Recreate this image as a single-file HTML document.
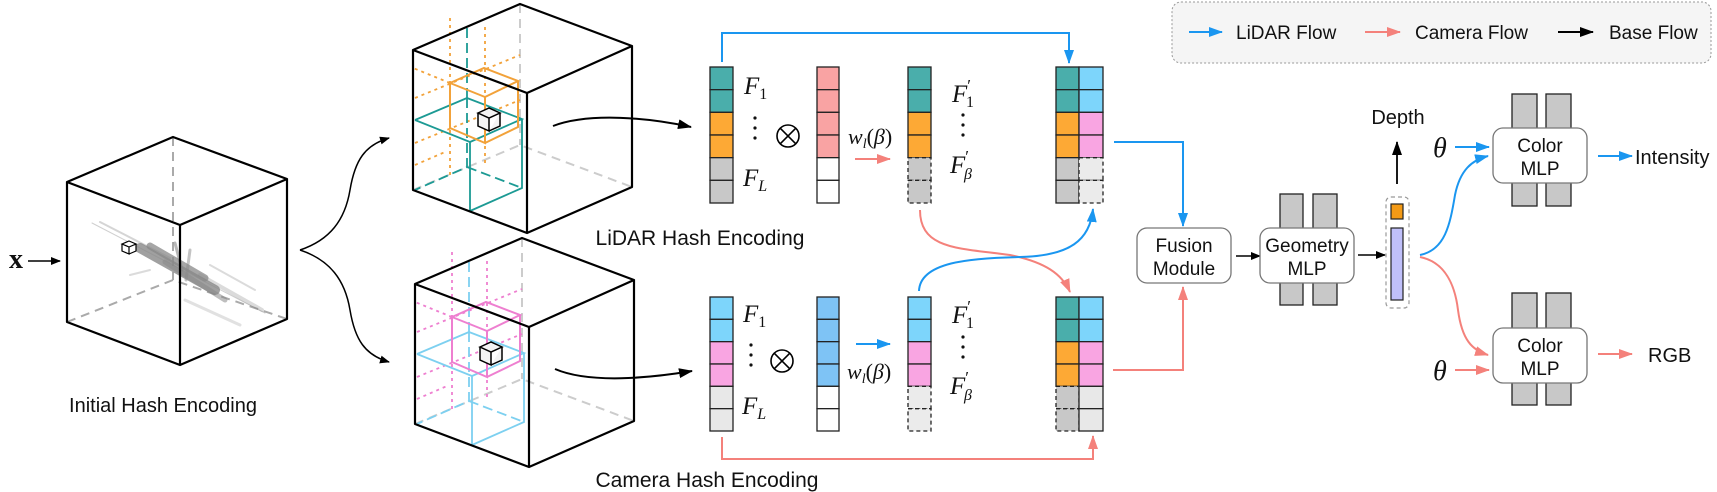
<!DOCTYPE html>
<html><head><meta charset="utf-8">
<style>
html,body{margin:0;padding:0;background:#fff;}
svg{display:block;}
.t{font-family:"Liberation Sans",sans-serif;fill:#111;}
.m{font-family:"Liberation Serif",serif;font-style:italic;fill:#111;}
.n{font-style:normal;}
</style></head>
<body>
<svg width="1717" height="492" viewBox="0 0 1717 492" xmlns="http://www.w3.org/2000/svg">
<defs>
<marker id="ab" markerWidth="10" markerHeight="8" refX="9" refY="4" orient="auto" markerUnits="userSpaceOnUse"><path d="M0,0 L10,4 L0,8 z" fill="#1a96f0"/></marker>
<marker id="ap" markerWidth="10" markerHeight="8" refX="9" refY="4" orient="auto" markerUnits="userSpaceOnUse"><path d="M0,0 L10,4 L0,8 z" fill="#f4817b"/></marker>
<marker id="ak" markerWidth="10" markerHeight="8" refX="9" refY="4" orient="auto" markerUnits="userSpaceOnUse"><path d="M0,0 L10,4 L0,8 z" fill="#000"/></marker>
<marker id="abL" markerWidth="14" markerHeight="10" refX="13" refY="5" orient="auto" markerUnits="userSpaceOnUse"><path d="M0,0 L14,5 L0,10 z" fill="#1a96f0"/></marker>
<marker id="apL" markerWidth="14" markerHeight="10" refX="13" refY="5" orient="auto" markerUnits="userSpaceOnUse"><path d="M0,0 L14,5 L0,10 z" fill="#f4817b"/></marker>
<marker id="akL" markerWidth="14" markerHeight="10" refX="13" refY="5" orient="auto" markerUnits="userSpaceOnUse"><path d="M0,0 L14,5 L0,10 z" fill="#000"/></marker>
</defs>

<!-- Legend -->
<rect x="1172" y="2" width="539" height="61" rx="9" fill="#f5f5f5" stroke="#999" stroke-width="1" stroke-dasharray="2,2"/>
<line x1="1189" y1="32" x2="1222" y2="32" stroke="#1a96f0" stroke-width="2" marker-end="url(#abL)"/>
<text class="t" x="1236" y="39" font-size="19">LiDAR Flow</text>
<line x1="1365" y1="32" x2="1400" y2="32" stroke="#f4817b" stroke-width="2" marker-end="url(#apL)"/>
<text class="t" x="1415" y="39" font-size="19">Camera Flow</text>
<line x1="1558" y1="32" x2="1593" y2="32" stroke="#000" stroke-width="2" marker-end="url(#akL)"/>
<text class="t" x="1609" y="39" font-size="19">Base Flow</text>

<!-- Left cube -->
<g fill="none">
<path d="M173,137 V280 M67,322 L173,280 L287,319" stroke="#aaa" stroke-width="2" stroke-dasharray="9,6"/>
<g stroke="#888" stroke-linecap="round">
<path d="M92,223 L265,313" stroke-width="1" opacity="0.4"/>
<path d="M100,222 L170,258" stroke-width="2" opacity="0.35"/>
<path d="M140,248 L215,290" stroke-width="10" opacity="0.8"/>
<path d="M150,246 L205,278" stroke-width="7" opacity="0.75"/>
<path d="M165,262 L225,300" stroke-width="5" opacity="0.55"/>
<path d="M200,275 L262,310" stroke-width="4" opacity="0.3"/>
<path d="M185,300 L240,325" stroke-width="3" opacity="0.25"/>
<path d="M175,243 L182,270" stroke-width="3" opacity="0.6"/>
<path d="M190,250 L186,280" stroke-width="3" opacity="0.5"/>
<path d="M130,275 L150,270" stroke-width="2" opacity="0.3"/>
<path d="M210,265 L255,290" stroke-width="2" opacity="0.3"/>
</g>
<path d="M67,182 L173,137 L287,179 L180,225 Z M67,182 V322 L180,365 L287,319 V179 M180,225 V365" stroke="#000" stroke-width="2.2" stroke-linejoin="round"/>
<path d="M122,244 L129,241 L136,244 L129,247 Z M122,244 V251 L129,254 V247 M129,254 L136,251 V244" stroke="#000" stroke-width="1.2" fill="#fff"/>
</g>
<text x="9" y="268" font-size="28" font-weight="bold" style="font-family:'Liberation Serif',serif;fill:#111">x</text>
<line x1="28" y1="261" x2="60" y2="261" stroke="#000" stroke-width="1.5" marker-end="url(#ak)"/>
<text class="t" x="163" y="412" font-size="20" text-anchor="middle">Initial Hash Encoding</text>

<!-- brace arrows -->
<path d="M300,250 C330,240 345,220 350,190 C355,160 365,145 389,138" fill="none" stroke="#000" stroke-width="1.5" marker-end="url(#ak)"/>
<path d="M300,250 C330,260 345,280 350,310 C355,340 365,355 389,362" fill="none" stroke="#000" stroke-width="1.5" marker-end="url(#ak)"/>

<!-- Top cube (LiDAR) -->
<g fill="none">
<path d="M520,4 V145 M413,190 L520,145 L632,187" stroke="#ccc" stroke-width="2" stroke-dasharray="9,6"/>
<g stroke="#f2a23a" stroke-width="1.8" stroke-dasharray="3,4">
<path d="M450,18 V175 M485,27 V167 M415,98 L520,55 M415,143 L520,100 M415,165 L445,152 M450,83 L413,68"/>
</g>
<g stroke="#1c9a94" stroke-width="1.8">
<path d="M467,28 V98" stroke-dasharray="10,5"/>
<path d="M467,98 V167 L415,190 M467,167 L522,188" stroke-dasharray="10,5"/>
<path d="M415,120 L470,142 V211 M415,120 L467,98 L522,119 L470,142 M522,119 V188 L470,211"/>
</g>
<g stroke="#f2a23a" stroke-width="2">
<path d="M450,83 L485,97 V143 L450,128 Z M450,83 L484,68 L518,81 L485,97 M518,81 V127 L485,143"/>
</g>
<path d="M413,50 L520,4 L632,46 L527,93 Z M413,50 V190 L527,233 L632,187 V46 M527,93 V233" stroke="#000" stroke-width="2.2" stroke-linejoin="round"/>
<path d="M478,113 L489,108 L500,113 L489,118 Z M478,113 V126 L489,131 V118 M489,131 L500,126 V113" stroke="#000" stroke-width="1.5" fill="#f4f4f4"/>
</g>
<text class="t" x="700" y="245" font-size="21" text-anchor="middle">LiDAR Hash Encoding</text>

<!-- Bottom cube (Camera) -->
<g fill="none">
<path d="M522,238 V379 M415,424 L522,379 L634,421" stroke="#ccc" stroke-width="2" stroke-dasharray="9,6"/>
<g stroke="#ee7fd0" stroke-width="1.8" stroke-dasharray="3,4">
<path d="M452,252 V409 M487,261 V401 M417,332 L522,289 M417,377 L522,334 M417,399 L447,386 M452,317 L415,302"/>
</g>
<g stroke="#7dd0f0" stroke-width="1.8">
<path d="M469,262 V332" stroke-dasharray="10,5"/>
<path d="M469,332 V401 L417,424 M469,401 L524,422" stroke-dasharray="10,5"/>
<path d="M417,354 L472,376 V445 M417,354 L469,332 L524,353 L472,376 M524,353 V422 L472,445"/>
</g>
<g stroke="#ee7fd0" stroke-width="2">
<path d="M452,317 L487,331 V377 L452,362 Z M452,317 L486,302 L520,315 L487,331 M520,315 V361 L487,377"/>
</g>
<path d="M415,284 L522,238 L634,280 L529,327 Z M415,284 V424 L529,467 L634,421 V280 M529,327 V467" stroke="#000" stroke-width="2.2" stroke-linejoin="round"/>
<path d="M480,347 L491,342 L502,347 L491,352 Z M480,347 V360 L491,365 V352 M491,365 L502,360 V347" stroke="#000" stroke-width="1.5" fill="#f4f4f4"/>
</g>
<text class="t" x="707" y="487" font-size="21" text-anchor="middle">Camera Hash Encoding</text>

<!-- cube -> columns arrows -->
<path d="M553,126 C590,112 650,118 691,127" fill="none" stroke="#000" stroke-width="2" marker-end="url(#akL)"/>
<path d="M555,369 C590,384 650,378 692,371" fill="none" stroke="#000" stroke-width="2" marker-end="url(#akL)"/>

<!-- Top columns -->
<g stroke="#222" stroke-width="1.3">
<rect x="710" y="67" width="23" height="22.67" fill="#4aaeab"/><rect x="710" y="89.67" width="23" height="22.67" fill="#4aaeab"/>
<rect x="710" y="112.33" width="23" height="22.67" fill="#fda935"/><rect x="710" y="135" width="23" height="22.67" fill="#fda935"/>
<rect x="710" y="157.67" width="23" height="22.67" fill="#c8c8c8"/><rect x="710" y="180.33" width="23" height="22.67" fill="#c8c8c8"/>

<rect x="817" y="67" width="22" height="22.67" fill="#f9a3a3"/><rect x="817" y="89.67" width="22" height="22.67" fill="#f9a3a3"/>
<rect x="817" y="112.33" width="22" height="22.67" fill="#f9a3a3"/><rect x="817" y="135" width="22" height="22.67" fill="#f9a3a3"/>
<rect x="817" y="157.67" width="22" height="22.67" fill="#fff"/><rect x="817" y="180.33" width="22" height="22.67" fill="#fff"/>

<rect x="908" y="67" width="23" height="22.67" fill="#4aaeab"/><rect x="908" y="89.67" width="23" height="22.67" fill="#4aaeab"/>
<rect x="908" y="112.33" width="23" height="22.67" fill="#fda935"/><rect x="908" y="135" width="23" height="22.67" fill="#fda935"/>
<rect x="908" y="157.67" width="23" height="22.67" fill="#c8c8c8" stroke-dasharray="4,3"/><rect x="908" y="180.33" width="23" height="22.67" fill="#c8c8c8" stroke-dasharray="4,3"/>

<rect x="1056" y="67" width="23" height="22.67" fill="#4aaeab"/><rect x="1056" y="89.67" width="23" height="22.67" fill="#4aaeab"/>
<rect x="1056" y="112.33" width="23" height="22.67" fill="#fda935"/><rect x="1056" y="135" width="23" height="22.67" fill="#fda935"/>
<rect x="1056" y="157.67" width="23" height="22.67" fill="#c8c8c8"/><rect x="1056" y="180.33" width="23" height="22.67" fill="#c8c8c8"/>
<rect x="1079" y="67" width="24" height="22.67" fill="#7dd5fb"/><rect x="1079" y="89.67" width="24" height="22.67" fill="#7dd5fb"/>
<rect x="1079" y="112.33" width="24" height="22.67" fill="#f9a5e2"/><rect x="1079" y="135" width="24" height="22.67" fill="#f9a5e2"/>
<rect x="1079" y="157.67" width="24" height="22.67" fill="#ebebeb" stroke-dasharray="4,3"/><rect x="1079" y="180.33" width="24" height="22.67" fill="#ebebeb" stroke-dasharray="4,3"/>
</g>

<!-- Bottom columns -->
<g stroke="#222" stroke-width="1.3">
<rect x="710" y="297" width="23" height="22.33" fill="#7dd5fb"/><rect x="710" y="319.33" width="23" height="22.33" fill="#7dd5fb"/>
<rect x="710" y="341.67" width="23" height="22.33" fill="#f9a5e2"/><rect x="710" y="364" width="23" height="22.33" fill="#f9a5e2"/>
<rect x="710" y="386.33" width="23" height="22.33" fill="#e8e8e8"/><rect x="710" y="408.67" width="23" height="22.33" fill="#e8e8e8"/>

<rect x="817" y="297" width="22" height="22.33" fill="#7ec3f5"/><rect x="817" y="319.33" width="22" height="22.33" fill="#7ec3f5"/>
<rect x="817" y="341.67" width="22" height="22.33" fill="#7ec3f5"/><rect x="817" y="364" width="22" height="22.33" fill="#7ec3f5"/>
<rect x="817" y="386.33" width="22" height="22.33" fill="#fff"/><rect x="817" y="408.67" width="22" height="22.33" fill="#fff"/>

<rect x="908" y="297" width="23" height="22.33" fill="#7dd5fb"/><rect x="908" y="319.33" width="23" height="22.33" fill="#7dd5fb"/>
<rect x="908" y="341.67" width="23" height="22.33" fill="#f9a5e2"/><rect x="908" y="364" width="23" height="22.33" fill="#f9a5e2"/>
<rect x="908" y="386.33" width="23" height="22.33" fill="#ebebeb" stroke-dasharray="4,3"/><rect x="908" y="408.67" width="23" height="22.33" fill="#ebebeb" stroke-dasharray="4,3"/>

<rect x="1056" y="297" width="23" height="22.33" fill="#4aaeab"/><rect x="1056" y="319.33" width="23" height="22.33" fill="#4aaeab"/>
<rect x="1056" y="341.67" width="23" height="22.33" fill="#fda935"/><rect x="1056" y="364" width="23" height="22.33" fill="#fda935"/>
<rect x="1056" y="386.33" width="23" height="22.33" fill="#c8c8c8" stroke-dasharray="4,3"/><rect x="1056" y="408.67" width="23" height="22.33" fill="#c8c8c8" stroke-dasharray="4,3"/>
<rect x="1079" y="297" width="24" height="22.33" fill="#7dd5fb"/><rect x="1079" y="319.33" width="24" height="22.33" fill="#7dd5fb"/>
<rect x="1079" y="341.67" width="24" height="22.33" fill="#f9a5e2"/><rect x="1079" y="364" width="24" height="22.33" fill="#f9a5e2"/>
<rect x="1079" y="386.33" width="24" height="22.33" fill="#e8e8e8"/><rect x="1079" y="408.67" width="24" height="22.33" fill="#e8e8e8"/>
</g>

<!-- vertical dots -->
<g fill="#111">
<circle cx="755" cy="118" r="1.6"/><circle cx="755" cy="128" r="1.6"/><circle cx="755" cy="138" r="1.6"/>
<circle cx="963" cy="115" r="1.6"/><circle cx="963" cy="125" r="1.6"/><circle cx="963" cy="135" r="1.6"/>
<circle cx="751" cy="345" r="1.6"/><circle cx="751" cy="355" r="1.6"/><circle cx="751" cy="365" r="1.6"/>
<circle cx="963" cy="337" r="1.6"/><circle cx="963" cy="347" r="1.6"/><circle cx="963" cy="357" r="1.6"/>
</g>

<!-- math labels top -->
<text class="m" x="744" y="94" font-size="25">F<tspan class="n" font-size="16" dy="5">1</tspan></text>
<text class="m" x="743" y="186" font-size="25">F<tspan font-size="16" dy="5">L</tspan></text>
<circle cx="788" cy="136" r="11" fill="none" stroke="#000" stroke-width="1.6"/>
<path d="M780.2,128.2 L795.8,143.8 M795.8,128.2 L780.2,143.8" stroke="#000" stroke-width="1.6"/>
<text class="m" x="848" y="144" font-size="22">w<tspan font-size="14" dy="4">l</tspan><tspan class="n" dy="-4">(</tspan>β<tspan class="n">)</tspan></text>
<line x1="855" y1="159" x2="890" y2="159" stroke="#f4817b" stroke-width="2" marker-end="url(#apL)"/>
<text class="m" x="952" y="102" font-size="25">F<tspan class="n" font-size="17" dy="-11">′</tspan><tspan class="n" font-size="16" dx="-5" dy="16">1</tspan></text>
<text class="m" x="950" y="173" font-size="25">F<tspan class="n" font-size="17" dy="-11">′</tspan><tspan font-size="16" dx="-5" dy="17">β</tspan></text>

<!-- math labels bottom -->
<text class="m" x="743" y="322" font-size="25">F<tspan class="n" font-size="16" dy="5">1</tspan></text>
<text class="m" x="742" y="414" font-size="25">F<tspan font-size="16" dy="5">L</tspan></text>
<circle cx="782" cy="361" r="11" fill="none" stroke="#000" stroke-width="1.6"/>
<path d="M774.2,353.2 L789.8,368.8 M789.8,353.2 L774.2,368.8" stroke="#000" stroke-width="1.6"/>
<line x1="856" y1="344" x2="890" y2="344" stroke="#1a96f0" stroke-width="2" marker-end="url(#abL)"/>
<text class="m" x="847" y="379" font-size="22">w<tspan font-size="14" dy="4">l</tspan><tspan class="n" dy="-4">(</tspan>β<tspan class="n">)</tspan></text>
<text class="m" x="952" y="323" font-size="25">F<tspan class="n" font-size="17" dy="-11">′</tspan><tspan class="n" font-size="16" dx="-5" dy="16">1</tspan></text>
<text class="m" x="950" y="394" font-size="25">F<tspan class="n" font-size="17" dy="-11">′</tspan><tspan font-size="16" dx="-5" dy="17">β</tspan></text>

<!-- flows -->
<g fill="none" stroke-width="2">
<path d="M722,62 V33 H1069 V63" stroke="#1a96f0" marker-end="url(#abL)"/>
<path d="M1114,142 H1183 V226" stroke="#1a96f0" marker-end="url(#abL)"/>
<path d="M1113,370 H1183 V287" stroke="#f4817b" marker-end="url(#apL)"/>
<path d="M722,437 V459 H1093 V436" stroke="#f4817b" marker-end="url(#apL)"/>
<path d="M920,210 C920,250 960,248 1010,255 C1045,262 1062,274 1070,292" stroke="#f4817b" marker-end="url(#apL)"/>
<path d="M919,291 C920,262 970,258 1020,257 C1070,256 1090,240 1093,209" stroke="#1a96f0" marker-end="url(#abL)"/>
</g>

<!-- Fusion -->
<rect x="1137" y="228" width="94" height="55" rx="10" fill="#fff" stroke="#777" stroke-width="1.3"/>
<text class="t" x="1184" y="252" font-size="19" text-anchor="middle">Fusion</text>
<text class="t" x="1184" y="275" font-size="19" text-anchor="middle">Module</text>
<line x1="1236" y1="256" x2="1260" y2="256" stroke="#000" stroke-width="1.5" marker-end="url(#ak)"/>

<!-- Geometry MLP -->
<rect x="1280" y="194" width="23" height="111" fill="#c8c8c8" stroke="#222" stroke-width="1.3"/>
<rect x="1313" y="194" width="24" height="111" fill="#c8c8c8" stroke="#222" stroke-width="1.3"/>
<rect x="1260" y="228" width="94" height="55" rx="10" fill="#fff" stroke="#777" stroke-width="1.3"/>
<text class="t" x="1307" y="252" font-size="19" text-anchor="middle">Geometry</text>
<text class="t" x="1307" y="275" font-size="19" text-anchor="middle">MLP</text>
<line x1="1358" y1="255" x2="1385" y2="255" stroke="#000" stroke-width="1.5" marker-end="url(#ak)"/>

<!-- output feature -->
<rect x="1386" y="197" width="23" height="111" rx="5" fill="none" stroke="#999" stroke-width="1.2" stroke-dasharray="4,3"/>
<rect x="1391" y="204" width="12" height="15" fill="#f39a16" stroke="#222" stroke-width="1.2"/>
<rect x="1391" y="228" width="12" height="72" fill="#c0c0fa" stroke="#222" stroke-width="1.2"/>
<line x1="1397" y1="184" x2="1397" y2="142" stroke="#000" stroke-width="1.8" marker-end="url(#akL)"/>
<text class="t" x="1398" y="124" font-size="20" text-anchor="middle">Depth</text>

<path d="M1420,255 C1445,250 1450,225 1455,195 C1460,170 1472,160 1488,156" fill="none" stroke="#1a96f0" stroke-width="2" marker-end="url(#abL)"/>
<path d="M1420,257 C1445,262 1455,285 1458,310 C1462,340 1472,350 1488,355" fill="none" stroke="#f4817b" stroke-width="2" marker-end="url(#apL)"/>

<!-- Color MLP top -->
<rect x="1512" y="94" width="25" height="112" fill="#c8c8c8" stroke="#222" stroke-width="1.3"/>
<rect x="1546" y="94" width="25" height="112" fill="#c8c8c8" stroke="#222" stroke-width="1.3"/>
<rect x="1493" y="128" width="94" height="55" rx="10" fill="#fff" stroke="#777" stroke-width="1.3"/>
<text class="t" x="1540" y="152" font-size="19" text-anchor="middle">Color</text>
<text class="t" x="1540" y="175" font-size="19" text-anchor="middle">MLP</text>
<text class="m" x="1433" y="157" font-size="28">θ</text>
<line x1="1455" y1="147" x2="1489" y2="147" stroke="#1a96f0" stroke-width="2" marker-end="url(#abL)"/>
<line x1="1598" y1="156" x2="1632" y2="156" stroke="#1a96f0" stroke-width="2" marker-end="url(#abL)"/>
<text class="t" x="1635" y="164" font-size="20">Intensity</text>

<!-- Color MLP bottom -->
<rect x="1512" y="293" width="25" height="112" fill="#c8c8c8" stroke="#222" stroke-width="1.3"/>
<rect x="1546" y="293" width="25" height="112" fill="#c8c8c8" stroke="#222" stroke-width="1.3"/>
<rect x="1493" y="328" width="94" height="55" rx="10" fill="#fff" stroke="#777" stroke-width="1.3"/>
<text class="t" x="1540" y="352" font-size="19" text-anchor="middle">Color</text>
<text class="t" x="1540" y="375" font-size="19" text-anchor="middle">MLP</text>
<text class="m" x="1433" y="380" font-size="28">θ</text>
<line x1="1455" y1="370" x2="1489" y2="370" stroke="#f4817b" stroke-width="2" marker-end="url(#apL)"/>
<line x1="1598" y1="354" x2="1632" y2="354" stroke="#f4817b" stroke-width="2" marker-end="url(#apL)"/>
<text class="t" x="1648" y="362" font-size="20">RGB</text>
</svg>
</body></html>
